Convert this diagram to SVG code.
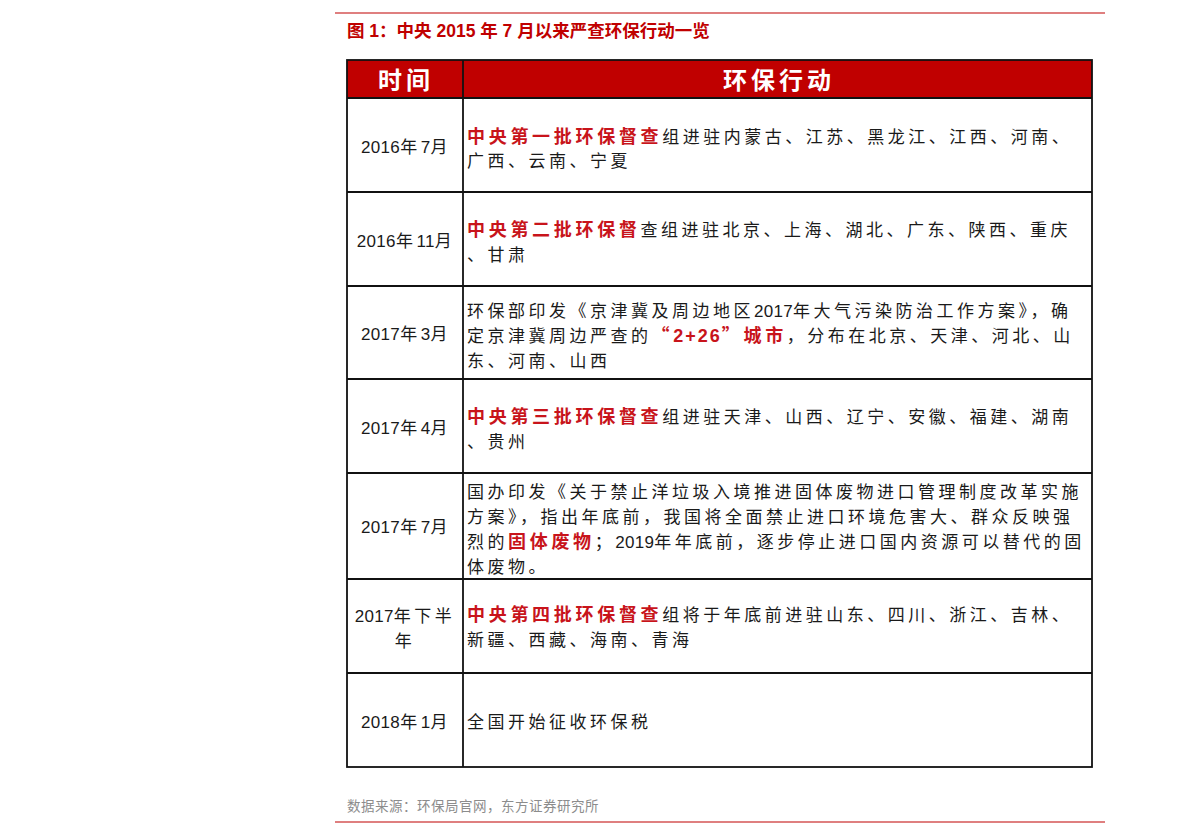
<svg xmlns="http://www.w3.org/2000/svg" width="1191" height="833" viewBox="0 0 1191 833">
<style>
text{font-family:"Liberation Sans","Noto Sans CJK SC",sans-serif}
.t{font-size:17.5px;font-weight:bold;fill:#C00000}
.h{font-size:24px;font-weight:bold;fill:#fff;letter-spacing:4px;text-anchor:middle}
.b{font-size:17px;fill:#1a1a1a;letter-spacing:3.5px}
.d{font-size:17px;fill:#1a1a1a;letter-spacing:3.5px;text-anchor:middle}
.n{letter-spacing:0.3px}
.r{font-size:18px;font-weight:bold;fill:#C8141B;letter-spacing:3.7px}
.q{font-family:"Noto Sans CJK SC",sans-serif}
.s{font-size:13.5px;fill:#8c8c8c;letter-spacing:0.5px}
.g{stroke:#111;stroke-width:1.8;fill:none}
.rl{stroke:#C00000;stroke-width:1.2}
</style>
<line class="rl" x1="335" y1="13" x2="1105" y2="13"/>
<text class="t" x="347" y="36.5">图 1：中央 2015 年 7 月以来严查环保行动一览</text>
<g id="header">
<rect x="347" y="60" width="745" height="38" fill="#C00000"/>
<text class="h" x="406" y="88.5">时间</text>
<text class="h" x="779" y="88.5">环保行动</text>
</g>
<g id="grid">
<rect class="g" x="347" y="60" width="745" height="707"/>
<line class="g" x1="463" y1="60" x2="463" y2="767"/>
<line class="g" x1="347" y1="98" x2="1092" y2="98"/>
<line class="g" x1="347" y1="192" x2="1092" y2="192"/>
<line class="g" x1="347" y1="286" x2="1092" y2="286"/>
<line class="g" x1="347" y1="379" x2="1092" y2="379"/>
<line class="g" x1="347" y1="473" x2="1092" y2="473"/>
<line class="g" x1="347" y1="579" x2="1092" y2="579"/>
<line class="g" x1="347" y1="673" x2="1092" y2="673"/>
</g>
<g id="row1">
<text class="d" x="406" y="153"><tspan class="n">2016</tspan>年<tspan class="n">7</tspan>月</text>
<text class="b" x="467" y="142.5"><tspan class="r">中央第一批环保督查</tspan>组进驻内蒙古、江苏、黑龙江、江西、河南、</text>
<text class="b" x="467" y="166.5">广西、云南、宁夏</text>
</g>
<g id="row2">
<text class="d" x="406" y="247"><tspan class="n">2016</tspan>年<tspan class="n">11</tspan>月</text>
<text class="b" x="467" y="236"><tspan class="r">中央第二批环保督</tspan>查组进驻北京、上海、湖北、广东、陕西、重庆</text>
<text class="b" x="467" y="260.5">、甘肃</text>
</g>
<g id="row3">
<text class="d" x="406" y="340"><tspan class="n">2017</tspan>年<tspan class="n">3</tspan>月</text>
<text class="b" x="467" y="316.5">环保部印发《京津冀及周边地区<tspan class="n">2017</tspan>年大气污染防治工作方案》，确</text>
<text class="b" x="467" y="341.5">定京津冀周边严查的<tspan class="r"><tspan class="q">“</tspan><tspan letter-spacing="2px">2+26</tspan><tspan class="q">”</tspan>城市</tspan>，分布在北京、天津、河北、山</text>
<text class="b" x="467" y="366.5">东、河南、山西</text>
</g>
<g id="row4">
<text class="d" x="406" y="434"><tspan class="n">2017</tspan>年<tspan class="n">4</tspan>月</text>
<text class="b" x="467" y="423"><tspan class="r">中央第三批环保督查</tspan>组进驻天津、山西、辽宁、安徽、福建、湖南</text>
<text class="b" x="467" y="447.5">、贵州</text>
</g>
<g id="row5">
<text class="d" x="406" y="533"><tspan class="n">2017</tspan>年<tspan class="n">7</tspan>月</text>
<text class="b" x="467" y="498">国办印发《关于禁止洋垃圾入境推进固体废物进口管理制度改革实施</text>
<text class="b" x="467" y="523">方案》，指出年底前，我国将全面禁止进口环境危害大、群众反映强</text>
<text class="b" x="467" y="548">烈的<tspan class="r">固体废物</tspan>；<tspan class="n">2019</tspan>年年底前，逐步停止进口国内资源可以替代的固</text>
<text class="b" x="467" y="572.5">体废物。</text>
</g>
<g id="row6">
<text class="d" x="405" y="622"><tspan class="n">2017</tspan>年下半</text>
<text class="d" x="405" y="647">年</text>
<text class="b" x="467" y="621"><tspan class="r">中央第四批环保督查</tspan>组将于年底前进驻山东、四川、浙江、吉林、</text>
<text class="b" x="467" y="646">新疆、西藏、海南、青海</text>
</g>
<g id="row7">
<text class="d" x="406" y="728"><tspan class="n">2018</tspan>年<tspan class="n">1</tspan>月</text>
<text class="b" x="467" y="728">全国开始征收环保税</text>
</g>
<text class="s" x="347" y="811">数据来源：环保局官网，东方证券研究所</text>
<line class="rl" x1="335" y1="822" x2="1105" y2="822"/>
</svg>
